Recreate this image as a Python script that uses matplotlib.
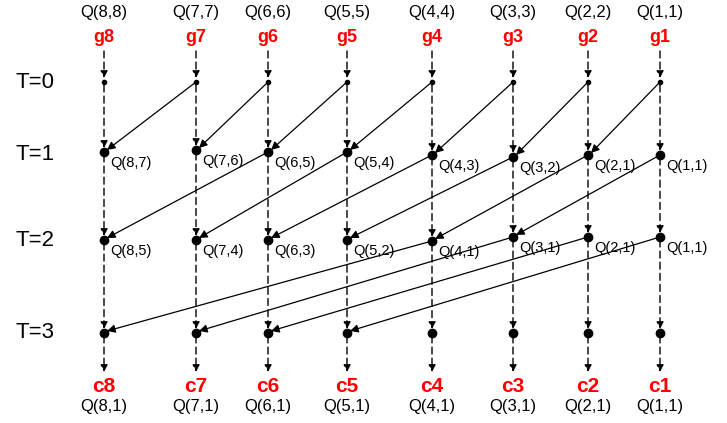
import matplotlib
matplotlib.use("Agg")
import matplotlib.pyplot as plt

plt.rcParams['font.family'] = ['Liberation Sans', 'DejaVu Sans']

top_labels = ["Q(8,8)", "Q(7,7)", "Q(6,6)", "Q(5,5)", "Q(4,4)", "Q(3,3)", "Q(2,2)", "Q(1,1)"]
g_labels = ["g8", "g7", "g6", "g5", "g4", "g3", "g2", "g1"]
t1_labels = ["Q(8,7)", "Q(7,6)", "Q(6,5)", "Q(5,4)", "Q(4,3)", "Q(3,2)", "Q(2,1)", "Q(1,1)"]
t2_labels = ["Q(8,5)", "Q(7,4)", "Q(6,3)", "Q(5,2)", "Q(4,1)", "Q(3,1)", "Q(2,1)", "Q(1,1)"]
c_labels = ["c8", "c7", "c6", "c5", "c4", "c3", "c2", "c1"]
bottom_labels = ["Q(8,1)", "Q(7,1)", "Q(6,1)", "Q(5,1)", "Q(4,1)", "Q(3,1)", "Q(2,1)", "Q(1,1)"]
row_labels = ["T=0", "T=1", "T=2", "T=3"]
hops = [1, 2, 4]  # arrow from column k+hop at T=r to column k at T=r+1

xs = [104, 196, 268, 347, 432, 513, 588, 660]
ys = [[82]*8,
      [152, 150, 152, 152, 155, 157, 155, 155],
      [240, 240, 240, 240, 241, 237, 237, 237],
      [333]*8]
row_y = [82, 155, 240, 333]

fig = plt.figure(figsize=(7.27, 4.23), dpi=100)
ax = fig.add_axes([0, 0, 1, 1])
ax.set_xlim(0, 727); ax.set_ylim(423, 0); ax.axis('off')

for i, x in enumerate(xs):
    ax.text(x, 12, top_labels[i], ha='center', va='center', fontsize=12)
    ax.text(x, 38, g_labels[i], ha='center', va='center', fontsize=13, color='red', fontweight='bold')
    pts = [48] + [ys[r][i] for r in range(4)] + [372]
    for a, b in zip(pts[:-1], pts[1:]):
        ax.annotate("", xy=(x, b - (4 if b != 372 else 0)), xytext=(x, a + 3),
                    arrowprops=dict(arrowstyle='-|>', linestyle=(0, (5, 3)), color='black', lw=1,
                                    mutation_scale=10, shrinkA=0, shrinkB=0))
    for r in range(4):
        ax.plot(x, ys[r][i], 'o', color='black', ms=3 if r == 0 else 6, zorder=5)
    ax.text(x + 6, ys[1][i] + 11, t1_labels[i], ha='left', va='center', fontsize=10.5)
    ax.text(x + 6, ys[2][i] + 11, t2_labels[i], ha='left', va='center', fontsize=10.5)
    ax.text(x, 386, c_labels[i], ha='center', va='center', fontsize=15, color='red', fontweight='bold')
    ax.text(x, 406, bottom_labels[i], ha='center', va='center', fontsize=12)

for r, h in enumerate(hops):
    for k in range(8 - h):
        ax.annotate("", xy=(xs[k] + 3, ys[r+1][k] - 2), xytext=(xs[k+h], ys[r][k+h]),
                    arrowprops=dict(arrowstyle='-|>', color='black', lw=0.9, mutation_scale=12,
                                    shrinkA=0, shrinkB=0))

for lbl, y in zip(row_labels, row_y):
    ax.text(15, y, lbl, ha='left', va='center', fontsize=16)

fig.savefig("out.png", dpi=100)
